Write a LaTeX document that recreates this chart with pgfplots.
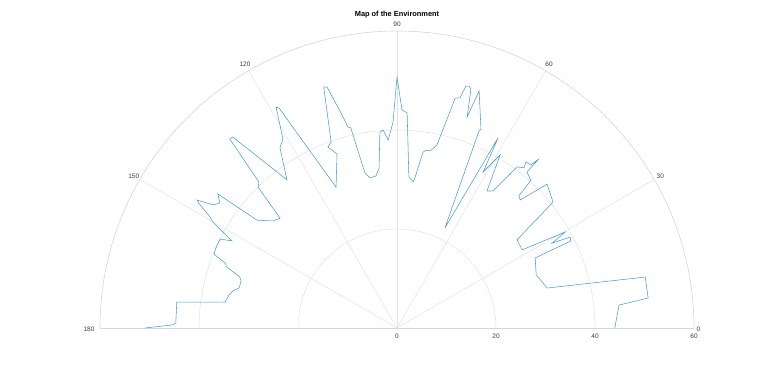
\documentclass[border=0pt]{standalone}
\usepackage{pgfplots}
\pgfplotsset{compat=1.18}
\usepackage{fontspec}
\setmainfont{Liberation Sans}
\definecolor{mblue}{rgb}{0,0.447,0.741}
\definecolor{gridc}{RGB}{226,226,226}
\definecolor{ringc}{RGB}{214,214,214}
\definecolor{tickc}{RGB}{60,60,60}
\newcommand{\tickfont}{\fontsize{6.5}{7}\selectfont}
\begin{document}
\begin{tikzpicture}[x=1pt,y=1pt]
\begin{scope}[shift={(297,0)}]
  \draw[gridc, line width=0.5pt] (99,0) arc[start angle=0,end angle=180,radius=99];
  \draw[gridc, line width=0.5pt] (198,0) arc[start angle=0,end angle=180,radius=198];
  \foreach \a in {30,60,...,150} \draw[gridc, line width=0.5pt] (0,0) -- (\a:297);
  \draw[ringc, line width=0.6pt] (297,0) arc[start angle=0,end angle=180,radius=297];
  \draw[ringc, line width=0.8pt] (-297,0) -- (297,0);
  \foreach \a in {30,60,...,150} \node[tickc, font=\tickfont, inner sep=0pt] at (\a:304) {\a};
  \node[tickc, font=\tickfont, inner sep=0pt] at (301.5,-1) {0};
  \node[tickc, font=\tickfont, inner sep=0pt] at (-308,-1) {180};
  \node[tickc, font=\tickfont, inner sep=0pt] at (0,-8) {0};
  \node[tickc, font=\tickfont, inner sep=0pt] at (99,-8) {20};
  \node[tickc, font=\tickfont, inner sep=0pt] at (198,-8) {40};
  \node[tickc, font=\tickfont, inner sep=0pt] at (297,-8) {60};
  \node[font=\fontsize{7.4}{8}\selectfont\bfseries, inner sep=0pt] at (0,313) {Map of the Environment};
\end{scope}
\begin{axis}[
  at={(0pt,0pt)}, anchor=south west,
  x=4.95pt, y=4.95pt,
  xmin=-60, xmax=60, ymin=0, ymax=60,
  enlargelimits=false,
  hide axis, clip=false,
]
\addplot[mblue!70!white, line width=0.55pt, data cs=polar, mark=none] table {
angle r
0 44.0
5.9 45.1
6.8 51.1
11.6 51.2
14.9 31.4
20.9 30.1
26.9 31.3
26.6 39.3
27.7 39.5
28.7 35.7
29.7 39.1
32.0 29.8
36.3 30.1
38.9 40.5
43.8 42.0
46.1 35.9
47.3 36.3
47.8 40.3
50.2 41.0
50.0 44.6
50.6 42.6
52.2 42.5
51.6 41.3
53.3 40.6
53.7 38.6
55.0 33.8
56.7 33.1
59.2 40.7
61.1 36.0
62.0 43.5
64.4 22.4
67.4 43.1
67.1 43.6
70.9 50.7
71.6 44.9
72.8 50.5
73.4 51.0
74.1 50.8
74.7 48.2
75.8 47.9
77.7 37.8
79.4 36.4
80.7 36.4
81.6 35.9
83.2 30.5
83.7 29.7
85.5 30.6
87.3 43.5
88.7 44.1
90.0 50.7
91.1 41.6
92.7 38.0
94.0 40.1
95.0 39.7
96.4 32.5
97.9 31.0
100.2 30.8
101.7 32.0
103.0 41.5
103.7 41.8
104.6 44.9
106.2 50.7
106.9 50.9
109.5 39.9
110.9 39.1
109.0 37.2
113.4 31.0
118.2 50.4
118.7 50.9
121.1 44.6
123.0 43.4
126.6 37.3
130.7 50.9
131.5 51.0
133.4 40.6
134.6 40.0
136.8 32.4
139.2 33.1
142.4 35.7
143.2 45.2
144.8 43.8
146.2 44.7
147.4 48.0
148.0 46.9
149.3 43.9
150.1 42.9
152.2 37.7
153.3 40.0
156.2 40.0
158.0 39.9
159.3 37.1
160.3 36.5
162.0 33.4
163.2 32.9
165.8 32.9
166.9 33.8
168.9 34.6
171.4 35.1
173.3 44.8
178.7 44.7
179.2 45.3
180.0 50.9
};
\end{axis}
\pgfresetboundingbox
\path[use as bounding box] (-100,-46) rectangle (667,328);
\end{tikzpicture}
\end{document}
